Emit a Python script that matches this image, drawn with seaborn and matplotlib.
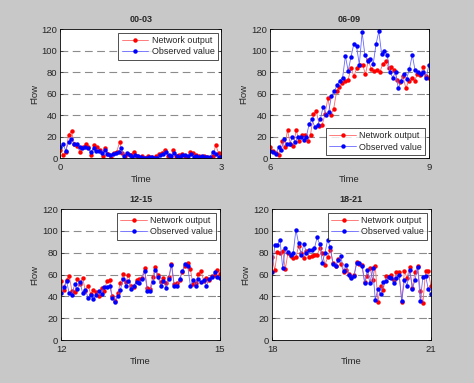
import numpy as np
import pandas as pd
import matplotlib
matplotlib.use("Agg")
import matplotlib.pyplot as plt
import seaborn as sns

# Panel titles / time windows
titles = ["00-03", "06-09", "12-15", "18-21"]
starts = [0, 6, 12, 18]
legend_loc = ["upper right", "lower right", "upper right", "upper right"]

# 00-03
net_00 = [8, 3, 6, 22, 25, 13, 11, 6, 10, 13, 10, 3, 12, 10, 8, 2, 9, 4, 0, 5, 6, 15, 5, 2, 4, 3,
          6, 2, 0, 2, 0, 2, 1, 0, 2, 4, 5, 8, 2, 0, 8, 2, 3, 4, 2, 1, 6, 5, 3, 2, 1, 2, 1, 0, 2,
          12, 5, 3]
obs_00 = [10, 13, 7, 15, 18, 13, 13, 10, 9, 10, 9, 6, 9, 7, 7, 5, 8, 4, 3, 4, 5, 6, 9, 2, 5, 3,
          1, 3, 2, 1, 0, 0, 1, 1, 0, 0, 3, 4, 6, 3, 2, 5, 2, 1, 3, 3, 2, 4, 1, 2, 1, 2, 1, 1, 1,
          6, 4, 1, 1]

# 06-09
net_06 = [10, 7, 5, 3, 16, 10, 26, 13, 11, 26, 16, 22, 22, 16, 22, 41, 44, 30, 31, 41, 56, 40,
          46, 62, 66, 70, 72, 73, 84, 76, 84, 87, 87, 78, 91, 83, 81, 82, 80, 88, 90, 84, 85, 82,
          73, 71, 76, 65, 72, 75, 72, 78, 77, 85, 76, 75]
obs_06 = [7, 6, 4, 10, 8, 18, 13, 13, 20, 15, 20, 20, 17, 20, 32, 36, 29, 31, 36, 48, 40, 43,
          58, 62, 68, 72, 75, 95, 81, 94, 106, 104, 87, 117, 96, 90, 92, 88, 106, 118, 97, 100,
          96, 80, 75, 80, 65, 72, 78, 74, 83, 96, 82, 80, 78, 80, 75, 87]

# 12-15
net_12 = [54, 46, 55, 59, 45, 44, 56, 51, 57, 45, 50, 42, 46, 44, 40, 48, 45, 54, 55, 40, 36, 43,
          52, 61, 53, 60, 50, 49, 55, 56, 57, 66, 48, 47, 58, 67, 60, 53, 57, 52, 58, 70, 51, 52,
          55, 62, 68, 71, 65, 51, 52, 61, 63, 54, 57, 55, 59, 60, 64, 61]
obs_12 = [43, 49, 54, 43, 41, 51, 47, 53, 43, 46, 39, 41, 38, 41, 45, 42, 49, 49, 50, 39, 35, 40,
          46, 56, 50, 54, 47, 50, 53, 52, 56, 63, 45, 45, 53, 64, 58, 50, 54, 48, 56, 69, 50, 50,
          56, 63, 70, 68, 50, 55, 50, 56, 53, 55, 50, 56, 58, 62, 58, 57]

# 18-21
net_18 = [76, 64, 81, 80, 82, 65, 80, 77, 75, 76, 86, 80, 75, 82, 76, 77, 78, 78, 84, 80, 69, 76,
          83, 71, 68, 74, 70, 62, 64, 61, 58, 60, 72, 70, 69, 53, 59, 66, 55, 68, 35, 50, 46, 59,
          58, 60, 55, 62, 62, 35, 63, 57, 67, 48, 62, 68, 45, 34, 63, 63, 50]
obs_18 = [62, 87, 87, 92, 66, 84, 81, 78, 80, 101, 89, 78, 88, 80, 83, 83, 84, 94, 88, 71, 80, 92,
          85, 70, 68, 73, 77, 63, 69, 60, 57, 59, 71, 71, 68, 52, 64, 52, 66, 37, 47, 42, 53, 54,
          58, 57, 52, 57, 60, 36, 55, 50, 64, 47, 55, 67, 36, 58, 59, 47, 42]

network = [net_00, net_06, net_12, net_18]
observed = [obs_00, obs_06, obs_12, obs_18]

sns.set_style("white")
plt.rcParams["font.family"] = ["Liberation Sans", "DejaVu Sans"]

fig = plt.figure(figsize=(4.74, 3.83), dpi=100, facecolor="#c8c8c8")
positions = [
    [0.127, 0.587, 0.340, 0.337],
    [0.570, 0.587, 0.335, 0.337],
    [0.129, 0.112, 0.335, 0.342],
    [0.574, 0.112, 0.335, 0.342],
]

for i in range(4):
    ax = fig.add_axes(positions[i])
    s = starts[i]
    t_net = np.linspace(s, s + 3, len(network[i]))
    t_obs = np.linspace(s, s + 3, len(observed[i]))

    sns.lineplot(x=t_net, y=network[i], ax=ax, color="#ff6666", linewidth=0.6,
                 marker="o", markersize=3.2, markerfacecolor="red",
                 markeredgecolor="red", markeredgewidth=0, label="Network output")
    sns.lineplot(x=t_obs, y=observed[i], ax=ax, color="#6666ff", linewidth=0.6,
                 marker="o", markersize=3.2, markerfacecolor="blue",
                 markeredgecolor="blue", markeredgewidth=0, label="Observed value")

    ax.set_xlim(s, s + 3)
    ax.set_ylim(0, 120)
    ax.set_xticks([s, s + 3])
    ax.set_yticks(range(0, 121, 20))
    for yv in range(20, 101, 20):
        ax.axhline(yv, color="#8c8c8c", linestyle=(0, (7, 4)), linewidth=0.8, zorder=0)

    ax.set_title(titles[i], fontsize=6.5, fontweight="bold", pad=5)
    ax.set_xlabel("Time", fontsize=6.8, labelpad=2)
    ax.set_ylabel("Flow", fontsize=6.8, labelpad=2)
    ax.tick_params(labelsize=6.8, direction="in", length=2, width=0.5, pad=2,
                   left=True, bottom=True, right=True, top=True)
    ax.tick_params(axis="x", pad=3.5)
    for sp in ax.spines.values():
        sp.set_color("black")
        sp.set_linewidth(0.6)

    leg = ax.legend(loc=legend_loc[i], fontsize=6.4, frameon=True, fancybox=False,
                    borderpad=0.35, handlelength=3.0, labelspacing=0.3,
                    handletextpad=0.4, borderaxespad=0.4)
    leg.get_frame().set_edgecolor("black")
    leg.get_frame().set_linewidth(0.6)

fig.savefig("out.png", dpi=100, facecolor=fig.get_facecolor())
